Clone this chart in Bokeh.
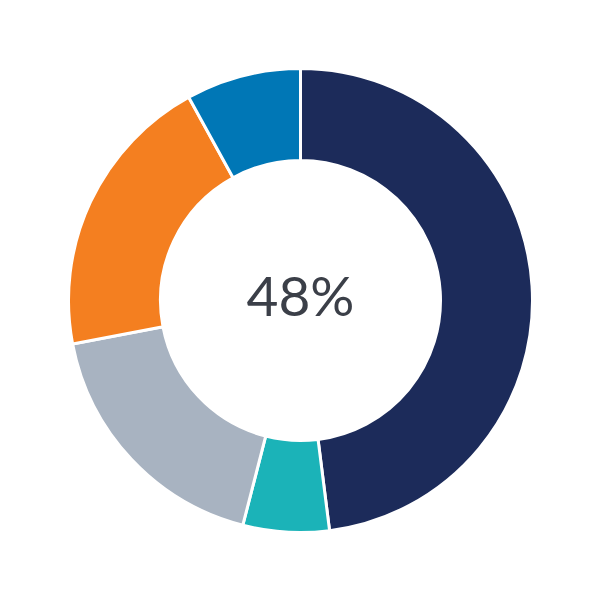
import math
from bokeh.plotting import figure
from bokeh.models import Range1d, ColumnDataSource
from bokeh.core.properties import value
from bokeh.embed import file_html
from bokeh.resources import INLINE

categories = ["A", "B", "C", "D", "E"]
values = [48, 6, 18, 20, 8]
colors = ["#1c2b5a", "#1bb3b8", "#a8b3c1", "#f47f20", "#0077b6"]
center_label = "48%"

total = sum(values)
starts, ends = [], []
acc = 0.0
for v in values:
    starts.append(math.pi / 2 - 2 * math.pi * acc / total)
    acc += v
    ends.append(math.pi / 2 - 2 * math.pi * acc / total)

src = ColumnDataSource(dict(cat=categories, val=values, color=colors, start=starts, end=ends))

p = figure(width=584, height=584, output_backend="svg", toolbar_location=None,
           x_range=Range1d(-300, 284), y_range=Range1d(-284, 300),
           min_border=0, outline_line_color=None, background_fill_color="white",
           border_fill_color="white")
p.axis.visible = False
p.grid.visible = False

p.annular_wedge(x=0, y=0, inner_radius=140, outer_radius=232,
                start_angle="start", end_angle="end", direction="clock",
                fill_color="color", line_color="white", line_width=3, source=src)

p.text(x=[0], y=[6], text=[center_label], text_align="center", text_baseline="middle",
       text_font=value("Lato"), text_font_size="55px", text_color="#3b3f48")

open("out.html", "w").write(file_html(p, INLINE))
